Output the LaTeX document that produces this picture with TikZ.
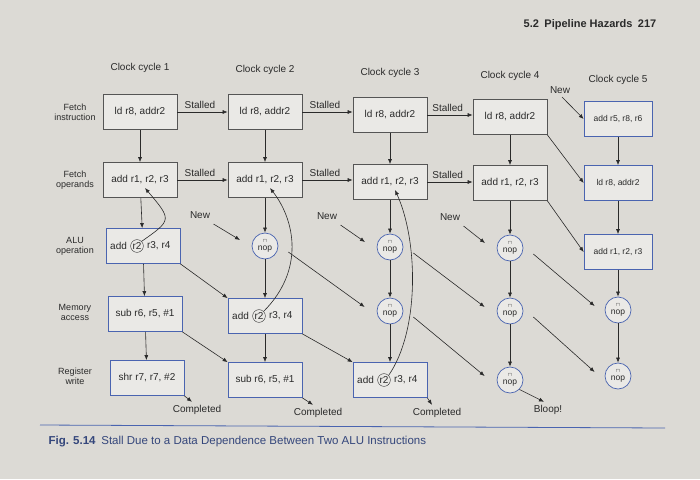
\documentclass[tikz,border=0pt]{standalone}
\usepackage{fontspec}
\setmainfont{Liberation Sans}
\usetikzlibrary{calc,positioning,arrows.meta}
\definecolor{paper}{HTML}{DCDAD5}
\definecolor{bl}{HTML}{4A64B0}
\definecolor{ink}{HTML}{2A2A2A}
\begin{document}
\begin{tikzpicture}[x=1pt,y=-1pt,font=\fontsize{10}{11}\selectfont,text=ink,
 box/.style={draw=ink!80,line width=0.7pt,minimum width=74pt,minimum height=35pt,inner sep=1pt,fill=paper!60!white},
 bbox/.style={box,draw=bl},
 sbox/.style={box,draw=bl,minimum width=68pt,font=\fontsize{8.5}{9}\selectfont},
 nop/.style={circle,draw=bl,line width=0.7pt,minimum size=26pt,inner sep=0pt,fill=paper!60!white,align=center,font=\fontsize{8.5}{8}\selectfont},
 rc/.style={circle,draw=ink,inner sep=0.5pt},
 ar/.style={-{Latex[length=5pt,width=4pt]},draw=ink,line width=0.6pt},
 lab/.style={align=center,font=\fontsize{9}{10}\selectfont}]
\useasboundingbox (0,0) rectangle (700,479);
\fill[paper] (0,0) rectangle (700,479);
\node[font=\fontsize{11}{12}\selectfont\bfseries,text=ink] at (590,25) {5.2\enspace Pipeline Hazards\enspace 217};
% clock cycles
\foreach \x/\y/\n in {140/68/1,265/70/2,390/73/3,510/76/4,618/80/5}
  \node at (\x,\y) {Clock cycle \n};
% row labels
\node[lab] at (75,112) {Fetch\\instruction};
\node[lab] at (75,180) {Fetch\\operands};
\node[lab] at (75,246) {ALU\\operation};
\node[lab] at (75,312) {Memory\\access};
\node[lab] at (75,376) {Register\\write};
\newcommand{\nopt}{{\fontsize{5}{5}\selectfont$\sqcap$}\\[0pt]nop}
% column 1
\node[box] (a1) at (140,112) {ld r8, addr2};
\node[box] (b1) at (140,180) {add r1, r2, r3};
\node[bbox] (c1) at (143,246) {};
\node[rc] (q1) at ($(c1.center)+(-6,0)$) {r2};
\node[left=0pt of q1] {add};
\node[right=0pt of q1] {r3, r4};
\node[bbox] (d1) at (145,314) {sub r6, r5, \#1};
\node[bbox] (e1) at (147,378) {shr r7, r7, \#2};
% column 2
\node[box] (a2) at (265,112) {ld r8, addr2};
\node[box] (b2) at (265,180) {add r1, r2, r3};
\node[nop] (c2) at (265,246) {\nopt};
\node[bbox] (d2) at (265,316) {};
\node[rc] (q2) at ($(d2.center)+(-6,0)$) {r2};
\node[left=0pt of q2] {add};
\node[right=0pt of q2] {r3, r4};
\node[bbox] (e2) at (265,380) {sub r6, r5, \#1};
% column 3
\node[box] (a3) at (390,115) {ld r8, addr2};
\node[box] (b3) at (390,182) {add r1, r2, r3};
\node[nop] (c3) at (390,247) {\nopt};
\node[nop] (d3) at (390,311) {\nopt};
\node[bbox] (e3) at (390,380) {};
\node[rc] (q3) at ($(e3.center)+(-6,0)$) {r2};
\node[left=0pt of q3] {add};
\node[right=0pt of q3] {r3, r4};
% column 4
\node[box] (a4) at (510,117) {ld r8, addr2};
\node[box] (b4) at (510,183) {add r1, r2, r3};
\node[nop] (c4) at (510,248) {\nopt};
\node[nop] (d4) at (510,311) {\nopt};
\node[nop] (e4) at (510,380) {\nopt};
% column 5
\node[sbox] (a5) at (618,119) {add r5, r8, r6};
\node[sbox] (b5) at (618,183) {ld r8, addr2};
\node[sbox] (c5) at (618,252) {add r1, r2, r3};
\node[nop] (d5) at (618,310) {\nopt};
\node[nop] (e5) at (618,376) {\nopt};
% vertical arrows
\foreach \c in {1,...,5}{
  \draw[ar] (a\c) -- (b\c);
  \draw[ar] (b\c) -- (c\c);
  \draw[ar] (c\c) -- (d\c);
  \draw[ar] (d\c) -- (e\c);
}
% stalled
\foreach \i/\j in {1/2,2/3,3/4}{
  \draw[ar] (a\i) -- node[above,pos=0.45]{Stalled} (a\j.west|-a\i);
  \draw[ar] (b\i) -- node[above,pos=0.45]{Stalled} (b\j.west|-b\i);
}
% diagonals
\draw[ar] (c1.south east) -- (d2.north west);
\draw[ar] (d1.south east) -- (e2.north west);
\draw[ar] ($(c2.east)+(10,6)$) -- ($(d3.west)+(-12,-4)$);
\draw[ar] (d2.south east) -- (e3.north west);
\draw[ar] ($(c3.east)+(10,6)$) -- ($(d4.west)+(-12,-4)$);
\draw[ar] ($(d3.east)+(10,6)$) -- ($(e4.west)+(-12,-4)$);
\draw[ar] (a4.south east) -- (b5.west);
\draw[ar] (b4.south east) -- (c5.west);
\draw[ar] ($(c4.east)+(10,6)$) -- ($(d5.west)+(-10,-4)$);
\draw[ar] ($(d4.east)+(10,6)$) -- ($(e5.west)+(-10,-4)$);
% completed
\node (k1) at (197,410) {Completed};
\node (k2) at (318,413) {Completed};
\node (k3) at (437,413) {Completed};
\node (k4) at (548,410) {Bloop!};
\draw[ar] (e1.south east) -- ($(k1.north)+(-5,0)$);
\draw[ar] (e2.south east) -- ($(k2.north)+(-5,0)$);
\draw[ar] (e3.south east) -- ($(k3.north)+(-5,0)$);
\draw[ar] (e4.south east) -- ($(k4.north)+(-4,0)$);
% new
\node (n1) at (200,215) {New};
\node (n2) at (327,216) {New};
\node (n3) at (450,217) {New};
\node (n4) at (560,90) {New};
\coordinate (m1) at (240,240);
\coordinate (m2) at (365,242);
\coordinate (m3) at (485,243);
\draw[ar] ($(n1.south east)+(0,2)$) -- (m1);
\draw[ar] ($(n2.south east)+(0,2)$) -- (m2);
\draw[ar] ($(n3.south east)+(0,2)$) -- (m3);
\draw[ar] ($(n4.south)+(2,0)$) -- (a5.west);
% dependence curves
\coordinate (t1) at ($(b1.center)+(5,8)$);
\coordinate (t2) at ($(b2.center)+(5,8)$);
\coordinate (t3) at ($(b3.center)+(5,8)$);
\draw[ar] (q1.north east) .. controls (172,220) .. (t1);
\draw[ar] (q2.north east) .. controls (305,270) and (295,220) .. (t2);
\draw[ar] (q3.north east) .. controls (420,330) and (418,240) .. (t3);
% caption
\draw[bl,line width=0.8pt] (40,425) -- (665,428);
\node[anchor=west,text=bl!70!black,font=\fontsize{11.5}{12}\selectfont] at (45,442) {\textbf{Fig. 5.14}\enspace Stall Due to a Data Dependence Between Two ALU Instructions};
\end{tikzpicture}
\end{document}
